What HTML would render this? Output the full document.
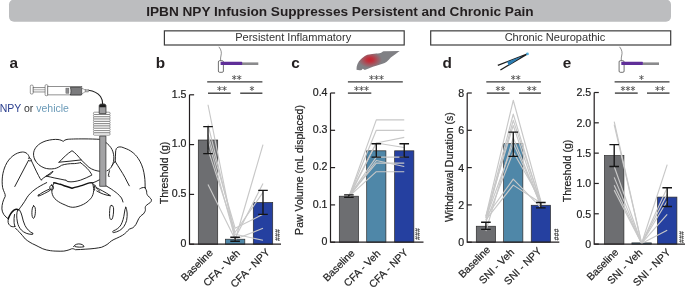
<!DOCTYPE html>
<html><head><meta charset="utf-8"><style>html,body{margin:0;padding:0;background:#fff;width:685px;height:288px;overflow:hidden}svg{display:block}</style></head><body>
<svg width="685" height="288" viewBox="0 0 685 288" font-family='"Liberation Sans", Arial, sans-serif'>
<rect width="685" height="288" fill="#fff"/>
<rect x="9" y="-0.5" width="662" height="22.3" rx="5" fill="#bcbdbf"/>
<text x="339.9" y="15.8" text-anchor="middle" font-size="13.64" font-weight="bold" fill="#231f20">IPBN NPY Infusion Suppresses Persistent and Chronic Pain</text>
<rect x="164.4" y="30.85" width="239.8" height="14.15" fill="#fff" stroke="#3c3c3c" stroke-width="1.2"/>
<text x="293.2" y="41" text-anchor="middle" font-size="11.05" fill="#333">Persistent Inflammatory</text>
<rect x="430.7" y="30.85" width="240" height="14.15" fill="#fff" stroke="#3c3c3c" stroke-width="1.2"/>
<text x="555" y="41" text-anchor="middle" font-size="11.05" fill="#333">Chronic Neuropathic</text>
<text x="9.4" y="67.6" font-size="15.3" font-weight="bold" fill="#231f20">a</text>
<text x="155.8" y="67.6" font-size="15.3" font-weight="bold" fill="#231f20">b</text>
<text x="291.3" y="67.6" font-size="15.3" font-weight="bold" fill="#231f20">c</text>
<text x="442.6" y="67.6" font-size="15.3" font-weight="bold" fill="#231f20">d</text>
<text x="562.7" y="67.6" font-size="15.3" font-weight="bold" fill="#231f20">e</text>
<rect x="198.3" y="140.02" width="19.4" height="104.18" fill="#6d6e71" stroke="#2b2b2b" stroke-width="0.7"/>
<rect x="225.4" y="239.22" width="19.4" height="4.98" fill="#4f87a8" stroke="#2b2b2b" stroke-width="0.7"/>
<rect x="253.3" y="202.47" width="19.4" height="41.73" fill="#2540a0" stroke="#2b2b2b" stroke-width="0.7"/>
<polyline points="208,104.76 235.1,240.22 263,144.6" fill="none" stroke="#c8c8c8" stroke-width="1.15" stroke-linejoin="round"/>
<polyline points="208,139.62 235.1,238.22 263,183.44" fill="none" stroke="#c8c8c8" stroke-width="1.15" stroke-linejoin="round"/>
<polyline points="208,149.58 235.1,232.25 263,192.41" fill="none" stroke="#c8c8c8" stroke-width="1.15" stroke-linejoin="round"/>
<polyline points="208,184.44 235.1,239.22 263,228.26" fill="none" stroke="#c8c8c8" stroke-width="1.15" stroke-linejoin="round"/>
<polyline points="208,124.68 235.1,234.24 263,240.22" fill="none" stroke="#c8c8c8" stroke-width="1.15" stroke-linejoin="round"/>
<polyline points="208,134.64 235.1,228.26 263,214.32" fill="none" stroke="#c8c8c8" stroke-width="1.15" stroke-linejoin="round"/>
<path d="M208 153.56V126.67M203.2 153.56h9.6M203.2 126.67h9.6" stroke="#151515" stroke-width="1.35" fill="none"/>
<path d="M235.1 241.21V237.23M230.3 241.21h9.6M230.3 237.23h9.6" stroke="#151515" stroke-width="1.35" fill="none"/>
<path d="M263 214.32V190.42M258.2 214.32h9.6M258.2 190.42h9.6" stroke="#151515" stroke-width="1.35" fill="none"/>
<path d="M189.5 94.8V244.2H281" stroke="#231f20" stroke-width="1.2" fill="none"/>
<path d="M189.5 244.2h4.6" stroke="#231f20" stroke-width="1.2"/>
<text x="186.5" y="247" text-anchor="end" font-size="10.6" fill="#222" stroke="#222" stroke-width="0.2">0</text>
<path d="M189.5 194.4h4.6" stroke="#231f20" stroke-width="1.2"/>
<text x="186.5" y="197.2" text-anchor="end" font-size="10.6" fill="#222" stroke="#222" stroke-width="0.2">0.5</text>
<path d="M189.5 144.6h4.6" stroke="#231f20" stroke-width="1.2"/>
<text x="186.5" y="147.4" text-anchor="end" font-size="10.6" fill="#222" stroke="#222" stroke-width="0.2">1.0</text>
<path d="M189.5 94.8h4.6" stroke="#231f20" stroke-width="1.2"/>
<text x="186.5" y="97.6" text-anchor="end" font-size="10.6" fill="#222" stroke="#222" stroke-width="0.2">1.5</text>
<text transform="translate(167.6,173) rotate(-90)" text-anchor="middle" font-size="10.5" fill="#222" stroke="#222" stroke-width="0.2">Threshold (g)</text>
<text transform="translate(213.5,253.5) rotate(-45)" text-anchor="end" font-size="10.4" fill="#222" stroke="#222" stroke-width="0.2">Baseline</text>
<text transform="translate(240.6,254) rotate(-45)" text-anchor="end" font-size="10.4" fill="#222" stroke="#222" stroke-width="0.2">CFA - Veh</text>
<text transform="translate(270.3,252.8) rotate(-45)" text-anchor="end" font-size="10.4" fill="#222" stroke="#222" stroke-width="0.2">CFA - NPY</text>
<text transform="translate(279.7,241) rotate(-90)" font-size="7.2" font-weight="bold" fill="#2a2a2a">###</text>
<path d="M207.2 81.9H262.4" stroke="#3a3a3a" stroke-width="1.35"/>
<text x="236.7" y="83.1" text-anchor="middle" font-family="DejaVu Sans, sans-serif" font-size="9.8" letter-spacing="0.1" fill="#4a4a4a" stroke="#4a4a4a" stroke-width="0.1">**</text>
<path d="M208 93.2H230.7" stroke="#3a3a3a" stroke-width="1.35"/>
<text x="222" y="94.4" text-anchor="middle" font-family="DejaVu Sans, sans-serif" font-size="9.8" letter-spacing="0.1" fill="#4a4a4a" stroke="#4a4a4a" stroke-width="0.1">**</text>
<path d="M240.2 93.2H262.4" stroke="#3a3a3a" stroke-width="1.35"/>
<text x="251.9" y="94.4" text-anchor="middle" font-family="DejaVu Sans, sans-serif" font-size="9.8" letter-spacing="0.1" fill="#4a4a4a" stroke="#4a4a4a" stroke-width="0.1">*</text>
<rect x="339.3" y="196.21" width="19.2" height="45.99" fill="#6d6e71" stroke="#2b2b2b" stroke-width="0.7"/>
<rect x="366.7" y="150.81" width="19.2" height="91.38" fill="#4f87a8" stroke="#2b2b2b" stroke-width="0.7"/>
<rect x="394.65" y="150.81" width="19.2" height="91.38" fill="#2540a0" stroke="#2b2b2b" stroke-width="0.7"/>
<polyline points="348.9,196.69 376.3,119.86 404.25,119.86" fill="none" stroke="#c8c8c8" stroke-width="1.15" stroke-linejoin="round"/>
<polyline points="348.9,196.69 376.3,130.3 404.25,130.3" fill="none" stroke="#c8c8c8" stroke-width="1.15" stroke-linejoin="round"/>
<polyline points="348.9,195.95 376.3,142.98 404.25,137.39" fill="none" stroke="#c8c8c8" stroke-width="1.15" stroke-linejoin="round"/>
<polyline points="348.9,197.44 376.3,142.98 404.25,147.46" fill="none" stroke="#c8c8c8" stroke-width="1.15" stroke-linejoin="round"/>
<polyline points="348.9,196.32 376.3,157.16 404.25,157.16" fill="none" stroke="#c8c8c8" stroke-width="1.15" stroke-linejoin="round"/>
<polyline points="348.9,197.07 376.3,160.51 404.25,166.48" fill="none" stroke="#c8c8c8" stroke-width="1.15" stroke-linejoin="round"/>
<polyline points="348.9,195.95 376.3,163.12 404.25,163.12" fill="none" stroke="#c8c8c8" stroke-width="1.15" stroke-linejoin="round"/>
<polyline points="348.9,196.69 376.3,171.7 404.25,171.7" fill="none" stroke="#c8c8c8" stroke-width="1.15" stroke-linejoin="round"/>
<path d="M348.9 197.44V194.83M344.1 197.44h9.6M344.1 194.83h9.6" stroke="#151515" stroke-width="1.35" fill="none"/>
<path d="M376.3 157.16V143.73M371.5 157.16h9.6M371.5 143.73h9.6" stroke="#151515" stroke-width="1.35" fill="none"/>
<path d="M404.25 157.16V143.73M399.45 157.16h9.6M399.45 143.73h9.6" stroke="#151515" stroke-width="1.35" fill="none"/>
<path d="M330.5 93V242.2H423.5" stroke="#231f20" stroke-width="1.2" fill="none"/>
<path d="M330.5 242.2h4.6" stroke="#231f20" stroke-width="1.2"/>
<text x="327.5" y="245" text-anchor="end" font-size="10.6" fill="#222" stroke="#222" stroke-width="0.2">0</text>
<path d="M330.5 204.9h4.6" stroke="#231f20" stroke-width="1.2"/>
<text x="327.5" y="207.7" text-anchor="end" font-size="10.6" fill="#222" stroke="#222" stroke-width="0.2">0.1</text>
<path d="M330.5 167.6h4.6" stroke="#231f20" stroke-width="1.2"/>
<text x="327.5" y="170.4" text-anchor="end" font-size="10.6" fill="#222" stroke="#222" stroke-width="0.2">0.2</text>
<path d="M330.5 130.3h4.6" stroke="#231f20" stroke-width="1.2"/>
<text x="327.5" y="133.1" text-anchor="end" font-size="10.6" fill="#222" stroke="#222" stroke-width="0.2">0.3</text>
<path d="M330.5 93h4.6" stroke="#231f20" stroke-width="1.2"/>
<text x="327.5" y="95.8" text-anchor="end" font-size="10.6" fill="#222" stroke="#222" stroke-width="0.2">0.4</text>
<text transform="translate(303.2,170) rotate(-90)" text-anchor="middle" font-size="10.5" fill="#222" stroke="#222" stroke-width="0.2">Paw Volume (mL displaced)</text>
<text transform="translate(355.4,253.8) rotate(-45)" text-anchor="end" font-size="10.4" fill="#222" stroke="#222" stroke-width="0.2">Baseline</text>
<text transform="translate(381.2,254.2) rotate(-45)" text-anchor="end" font-size="10.4" fill="#222" stroke="#222" stroke-width="0.2">CFA - Veh</text>
<text transform="translate(408.75,253) rotate(-45)" text-anchor="end" font-size="10.4" fill="#222" stroke="#222" stroke-width="0.2">CFA - NPY</text>
<text transform="translate(419.7,240) rotate(-90)" font-size="7.2" font-weight="bold" fill="#2a2a2a">###</text>
<path d="M347.9 81.9H402.8" stroke="#3a3a3a" stroke-width="1.35"/>
<text x="376.5" y="83.1" text-anchor="middle" font-family="DejaVu Sans, sans-serif" font-size="9.8" letter-spacing="0.1" fill="#4a4a4a" stroke="#4a4a4a" stroke-width="0.1">***</text>
<path d="M347.9 93.1H371.3" stroke="#3a3a3a" stroke-width="1.35"/>
<text x="361.6" y="94.3" text-anchor="middle" font-family="DejaVu Sans, sans-serif" font-size="9.8" letter-spacing="0.1" fill="#4a4a4a" stroke="#4a4a4a" stroke-width="0.1">***</text>
<rect x="476.3" y="226.25" width="19.2" height="15.95" fill="#6d6e71" stroke="#2b2b2b" stroke-width="0.7"/>
<rect x="503.65" y="143.73" width="19.2" height="98.47" fill="#4f87a8" stroke="#2b2b2b" stroke-width="0.7"/>
<rect x="531.25" y="205.27" width="19.2" height="36.93" fill="#2540a0" stroke="#2b2b2b" stroke-width="0.7"/>
<polyline points="485.9,216.09 513.25,100.27 540.85,201.17" fill="none" stroke="#c8c8c8" stroke-width="1.15" stroke-linejoin="round"/>
<polyline points="485.9,217.95 513.25,114.07 540.85,204.9" fill="none" stroke="#c8c8c8" stroke-width="1.15" stroke-linejoin="round"/>
<polyline points="485.9,219.82 513.25,120.42 540.85,202.1" fill="none" stroke="#c8c8c8" stroke-width="1.15" stroke-linejoin="round"/>
<polyline points="485.9,216.09 513.25,125.45 540.85,206.76" fill="none" stroke="#c8c8c8" stroke-width="1.15" stroke-linejoin="round"/>
<polyline points="485.9,217.95 513.25,143.54 540.85,203.97" fill="none" stroke="#c8c8c8" stroke-width="1.15" stroke-linejoin="round"/>
<polyline points="485.9,221.69 513.25,151.93 540.85,200.24" fill="none" stroke="#c8c8c8" stroke-width="1.15" stroke-linejoin="round"/>
<polyline points="485.9,217.02 513.25,179.16 540.85,207.7" fill="none" stroke="#c8c8c8" stroke-width="1.15" stroke-linejoin="round"/>
<polyline points="485.9,219.82 513.25,185.13 540.85,203.03" fill="none" stroke="#c8c8c8" stroke-width="1.15" stroke-linejoin="round"/>
<polyline points="485.9,231.01 513.25,137.76 540.85,205.83" fill="none" stroke="#c8c8c8" stroke-width="1.15" stroke-linejoin="round"/>
<path d="M485.9 229.33V222.24M481.1 229.33h9.6M481.1 222.24h9.6" stroke="#151515" stroke-width="1.35" fill="none"/>
<path d="M513.25 156.41V132.16M508.45 156.41h9.6M508.45 132.16h9.6" stroke="#151515" stroke-width="1.35" fill="none"/>
<path d="M540.85 207.88V202.48M536.05 207.88h9.6M536.05 202.48h9.6" stroke="#151515" stroke-width="1.35" fill="none"/>
<path d="M467.2 93V242.2H559.3" stroke="#231f20" stroke-width="1.2" fill="none"/>
<path d="M467.2 242.2h4.6" stroke="#231f20" stroke-width="1.2"/>
<text x="464.2" y="246.1" text-anchor="end" font-size="10.6" fill="#222" stroke="#222" stroke-width="0.2">0</text>
<path d="M467.2 204.9h4.6" stroke="#231f20" stroke-width="1.2"/>
<text x="464.2" y="208.8" text-anchor="end" font-size="10.6" fill="#222" stroke="#222" stroke-width="0.2">2</text>
<path d="M467.2 167.6h4.6" stroke="#231f20" stroke-width="1.2"/>
<text x="464.2" y="171.5" text-anchor="end" font-size="10.6" fill="#222" stroke="#222" stroke-width="0.2">4</text>
<path d="M467.2 130.3h4.6" stroke="#231f20" stroke-width="1.2"/>
<text x="464.2" y="134.2" text-anchor="end" font-size="10.6" fill="#222" stroke="#222" stroke-width="0.2">6</text>
<path d="M467.2 93h4.6" stroke="#231f20" stroke-width="1.2"/>
<text x="464.2" y="96.9" text-anchor="end" font-size="10.6" fill="#222" stroke="#222" stroke-width="0.2">8</text>
<text transform="translate(453.4,167.2) rotate(-90)" text-anchor="middle" font-size="10.5" fill="#222" stroke="#222" stroke-width="0.2">Withdrawal Duration (s)</text>
<text transform="translate(490.9,250.4) rotate(-45)" text-anchor="end" font-size="10.4" fill="#222" stroke="#222" stroke-width="0.2">Baseline</text>
<text transform="translate(514.75,253) rotate(-45)" text-anchor="end" font-size="10.4" fill="#222" stroke="#222" stroke-width="0.2">SNI - Veh</text>
<text transform="translate(542.25,251.5) rotate(-45)" text-anchor="end" font-size="10.4" fill="#222" stroke="#222" stroke-width="0.2">SNI - NPY</text>
<text transform="translate(559,240.5) rotate(-90)" font-size="7.2" font-weight="bold" fill="#2a2a2a">###</text>
<path d="M486.25 81.9H540.9" stroke="#3a3a3a" stroke-width="1.35"/>
<text x="515.7" y="83.1" text-anchor="middle" font-family="DejaVu Sans, sans-serif" font-size="9.8" letter-spacing="0.1" fill="#4a4a4a" stroke="#4a4a4a" stroke-width="0.1">**</text>
<path d="M486.8 93.1H509.5" stroke="#3a3a3a" stroke-width="1.35"/>
<text x="500.6" y="94.3" text-anchor="middle" font-family="DejaVu Sans, sans-serif" font-size="9.8" letter-spacing="0.1" fill="#4a4a4a" stroke="#4a4a4a" stroke-width="0.1">**</text>
<path d="M519 93.1H540.9" stroke="#3a3a3a" stroke-width="1.35"/>
<text x="531.7" y="94.3" text-anchor="middle" font-family="DejaVu Sans, sans-serif" font-size="9.8" letter-spacing="0.1" fill="#4a4a4a" stroke="#4a4a4a" stroke-width="0.1">**</text>
<rect x="604.5" y="155.57" width="19.4" height="88.53" fill="#6d6e71" stroke="#2b2b2b" stroke-width="0.7"/>
<rect x="631.9" y="242.89" width="19.4" height="1.21" fill="#4f87a8" stroke="#2b2b2b" stroke-width="0.7"/>
<rect x="657.5" y="197.1" width="19.4" height="47" fill="#2540a0" stroke="#2b2b2b" stroke-width="0.7"/>
<polyline points="614.2,121.61 641.6,243.49 667.2,230.15" fill="none" stroke="#c8c8c8" stroke-width="1.15" stroke-linejoin="round"/>
<polyline points="614.2,124.64 641.6,243.49 667.2,164.66" fill="none" stroke="#c8c8c8" stroke-width="1.15" stroke-linejoin="round"/>
<polyline points="614.2,166.48 641.6,243.49 667.2,201.05" fill="none" stroke="#c8c8c8" stroke-width="1.15" stroke-linejoin="round"/>
<polyline points="614.2,185.28 641.6,243.49 667.2,194.38" fill="none" stroke="#c8c8c8" stroke-width="1.15" stroke-linejoin="round"/>
<polyline points="614.2,190.13 641.6,243.49 667.2,214.39" fill="none" stroke="#c8c8c8" stroke-width="1.15" stroke-linejoin="round"/>
<polyline points="614.2,177.4 641.6,243.49 667.2,187.7" fill="none" stroke="#c8c8c8" stroke-width="1.15" stroke-linejoin="round"/>
<path d="M614.2 166.48V144.65M609.4 166.48h9.6M609.4 144.65h9.6" stroke="#151515" stroke-width="1.35" fill="none"/>
<path d="M667.2 206.5V187.7M662.4 206.5h9.6M662.4 187.7h9.6" stroke="#151515" stroke-width="1.35" fill="none"/>
<path d="M594.2 92.5V244.1H685" stroke="#231f20" stroke-width="1.2" fill="none"/>
<path d="M594.2 244.1h4.6" stroke="#231f20" stroke-width="1.2"/>
<text x="591.2" y="247.9" text-anchor="end" font-size="10.6" fill="#222" stroke="#222" stroke-width="0.2">0</text>
<path d="M594.2 213.78h4.6" stroke="#231f20" stroke-width="1.2"/>
<text x="591.2" y="217.58" text-anchor="end" font-size="10.6" fill="#222" stroke="#222" stroke-width="0.2">0.5</text>
<path d="M594.2 183.46h4.6" stroke="#231f20" stroke-width="1.2"/>
<text x="591.2" y="187.26" text-anchor="end" font-size="10.6" fill="#222" stroke="#222" stroke-width="0.2">1.0</text>
<path d="M594.2 153.14h4.6" stroke="#231f20" stroke-width="1.2"/>
<text x="591.2" y="156.94" text-anchor="end" font-size="10.6" fill="#222" stroke="#222" stroke-width="0.2">1.5</text>
<path d="M594.2 122.82h4.6" stroke="#231f20" stroke-width="1.2"/>
<text x="591.2" y="126.62" text-anchor="end" font-size="10.6" fill="#222" stroke="#222" stroke-width="0.2">2.0</text>
<path d="M594.2 92.5h4.6" stroke="#231f20" stroke-width="1.2"/>
<text x="591.2" y="96.3" text-anchor="end" font-size="10.6" fill="#222" stroke="#222" stroke-width="0.2">2.5</text>
<text transform="translate(571,171) rotate(-90)" text-anchor="middle" font-size="10.5" fill="#222" stroke="#222" stroke-width="0.2">Threshold (g)</text>
<text transform="translate(619.2,252.9) rotate(-45)" text-anchor="end" font-size="10.4" fill="#222" stroke="#222" stroke-width="0.2">Baseline</text>
<text transform="translate(643,253.4) rotate(-45)" text-anchor="end" font-size="10.4" fill="#222" stroke="#222" stroke-width="0.2">SNI - Veh</text>
<text transform="translate(671.2,252.9) rotate(-45)" text-anchor="end" font-size="10.4" fill="#222" stroke="#222" stroke-width="0.2">SNI - NPY</text>
<text transform="translate(684.3,243.1) rotate(-90)" font-size="7.2" font-weight="bold" fill="#2a2a2a">###</text>
<path d="M614.6 81.9H669.5" stroke="#3a3a3a" stroke-width="1.35"/>
<text x="641.5" y="83.1" text-anchor="middle" font-family="DejaVu Sans, sans-serif" font-size="9.8" letter-spacing="0.1" fill="#4a4a4a" stroke="#4a4a4a" stroke-width="0.1">*</text>
<path d="M614.9 93.1H637.7" stroke="#3a3a3a" stroke-width="1.35"/>
<text x="628" y="94.3" text-anchor="middle" font-family="DejaVu Sans, sans-serif" font-size="9.8" letter-spacing="0.1" fill="#4a4a4a" stroke="#4a4a4a" stroke-width="0.1">***</text>
<path d="M647 93.1H669.5" stroke="#3a3a3a" stroke-width="1.35"/>
<text x="659.9" y="94.3" text-anchor="middle" font-family="DejaVu Sans, sans-serif" font-size="9.8" letter-spacing="0.1" fill="#4a4a4a" stroke="#4a4a4a" stroke-width="0.1">**</text>
<g transform="translate(0,0)">
<path d="M218.9 46.8 C221.5 50 221.6 53 221.1 55 C220.6 57 220.4 59 220.6 60.7" fill="none" stroke="#444" stroke-width="0.6"/>
<rect x="218.4" y="60.7" width="5" height="11.6" rx="1.2" fill="#fff" stroke="#333" stroke-width="0.7"/>
<rect x="242" y="62.4" width="16.3" height="2.6" fill="#8a8a8c"/>
<rect x="220.6" y="61.8" width="21.6" height="3.3" rx="0.6" fill="#5f2f98"/>
</g>
<g transform="translate(400.7,0)">
<path d="M218.9 46.8 C221.5 50 221.6 53 221.1 55 C220.6 57 220.4 59 220.6 60.7" fill="none" stroke="#444" stroke-width="0.6"/>
<rect x="218.4" y="60.7" width="5" height="11.6" rx="1.2" fill="#fff" stroke="#333" stroke-width="0.7"/>
<rect x="242" y="62.4" width="16.3" height="2.6" fill="#8a8a8c"/>
<rect x="220.6" y="61.8" width="21.6" height="3.3" rx="0.6" fill="#5f2f98"/>
</g>
<defs><radialGradient id="rg" cx="370" cy="59.8" r="12" gradientUnits="userSpaceOnUse" gradientTransform="translate(370 59.8) scale(1.05 0.7) translate(-370 -59.8)"><stop offset="0" stop-color="#c62430"/><stop offset="0.25" stop-color="#c1303c"/><stop offset="0.6" stop-color="#a05a63"/><stop offset="0.95" stop-color="#808084"/></radialGradient></defs>
<path d="M356.5 69.8 C356.3 66 358 62 360.6 59.6 C362.5 57.5 364 56.3 365.8 55.4 C368 54.4 370 54 372.1 53.9 C375 53.6 377.5 53.6 379.4 53.3 C381 53 382.2 52 383.5 51.25 L399.7 51 C398 52.3 396.5 53.3 395 54.4 C393.5 55.5 392.2 56.5 390.8 57.5 C389.5 59 388.2 60.5 386.7 61.7 C385.3 62.6 384 63.2 382.5 63.75 C380.5 64.5 378.5 65.2 376.25 65.8 C374.5 66.3 372.8 66.8 371 67.4 C369 68.2 367 69.2 364.8 70 L362.7 68.75 L361.7 70 C360 70.3 358 70.2 356.5 69.8 Z" fill="url(#rg)"/>
<path d="M497.8 65.3 L527.5 53.9 L500.4 70" fill="none" stroke="#1e1e1e" stroke-width="1.25" stroke-linejoin="round"/>
<path d="M507.2 61.8 L522.5 55.9 L508.6 65.4 Z" fill="#2b7db2"/>
<circle cx="527.5" cy="53.9" r="1.3" fill="#4fb0e0"/>
<path d="M29.5 157.8 C28.5 154 26 152 22.5 152 C16 152.3 9 157.5 5.5 165.5 C2.5 172 1.5 180 2.6 187.5 C3.4 191.5 5.8 194 5.2 196.5 C3.2 200 1.8 204.5 1.9 208.9 C2.2 213 4.5 216.5 8.3 218.8" fill="none" stroke="#1a1a1a" stroke-width="0.95" stroke-linecap="round" stroke-linejoin="round"/>
<path d="M28.3 158.2 C29.2 157.6 30.8 158.2 31.2 159.6 C31.4 160.8 30.3 161.4 29.4 160.9" fill="none" stroke="#1a1a1a" stroke-width="0.95" stroke-linecap="round" stroke-linejoin="round"/>
<path d="M28.6 160.2 L14.8 186.5" fill="none" stroke="#1a1a1a" stroke-width="0.95" stroke-linecap="round" stroke-linejoin="round"/>
<path d="M31.2 160.3 C33.5 165 36 171 38.5 175.5 C39.5 177.5 40.5 179.3 41.2 180" fill="none" stroke="#1a1a1a" stroke-width="0.95" stroke-linecap="round" stroke-linejoin="round"/>
<path d="M35 160 C33.4 157 33 153.5 34.2 150.5 C36 146 40 142.8 46.2 140.8 C51 139.5 55 139.2 58 139.5 C60.5 139.8 62 140.6 63.2 141.4 C64.2 140.3 65.5 139.6 67 139.4 C70 139 76 138.9 84 138.9 C90 138.9 95 139.1 99.5 139.3" fill="none" stroke="#1a1a1a" stroke-width="0.95" stroke-linecap="round" stroke-linejoin="round"/>
<path d="M35 160 C37 163.8 40 166.2 44 167.8 C47 169 51 169.2 54.5 168.6 C57.5 168 59.5 166.7 61.5 165.3 C65 164.2 69 163.5 74.3 163.6 C77 163.4 79 163 80.4 162.6" fill="none" stroke="#1a1a1a" stroke-width="0.95" stroke-linecap="round" stroke-linejoin="round"/>
<path d="M59.1 162.2 C63 158 67.5 153.5 72 150.7 C75 152.5 78.5 156.5 81.2 159.9 C74 160.8 66 161.6 59.1 162.2 Z" fill="none" stroke="#1a1a1a" stroke-width="0.95" stroke-linecap="round" stroke-linejoin="round"/>
<path d="M81.2 159.9 C84 162.5 86.6 165.2 89 167.4 C92.5 169.8 96 170.8 99.6 171.3" fill="none" stroke="#1a1a1a" stroke-width="0.95" stroke-linecap="round" stroke-linejoin="round"/>
<path d="M80.4 162.6 C83.5 165 86.6 167.5 89 170.5 C90.5 172.5 91.5 174 91.9 175.1 C88.5 177 84 178.8 80.4 180.2 C76 181.4 72 182.3 68 181.6 C67 181.2 66.5 180.8 66 180.3" fill="none" stroke="#1a1a1a" stroke-width="0.95" stroke-linecap="round" stroke-linejoin="round"/>
<path d="M46.3 176.1 C49 176.6 51.5 177.3 54.2 177.9 C58 178.6 62 179.5 66 180.3" fill="none" stroke="#1a1a1a" stroke-width="0.95" stroke-linecap="round" stroke-linejoin="round"/>
<path d="M41.2 180 C42.8 178.5 44.5 177 46.3 176.1 C48.5 174.5 51 172.5 53 171.2 C52.5 172.8 50.5 174.8 46.3 176.1" fill="none" stroke="#1a1a1a" stroke-width="0.95" stroke-linecap="round" stroke-linejoin="round"/>
<path d="M53.8 182.8 C56 183.2 58 183.8 60.3 184.3 C62 184.8 63 185.2 63.6 185.5 C67 186.6 69.5 187.5 72 188.2 C75 187.4 78 186.6 80.4 185.9 C84 184.8 87 183.6 89.6 182.9 C91 182.7 92 182.8 92.7 182.9" fill="none" stroke="#111" stroke-width="1.45" stroke-linecap="round" stroke-linejoin="round"/>
<path d="M92.7 183.6 C93.6 187 94 190 93.4 192.8 C92.8 195.5 91.8 197.5 90.4 198.9 C88 201.5 86 203 83.5 204.3 C80 206 76 207.3 72.8 207.3 C70 207.2 67.5 206.2 65.2 205 C62 203.8 59 202.2 56.7 200.4 C53.8 198.2 52.4 195.5 51.9 192.5 C51.6 189.5 52.3 186 53.8 183.2" fill="none" stroke="#1a1a1a" stroke-width="0.95" stroke-linecap="round" stroke-linejoin="round"/>
<path d="M95 185.2 C95.8 186.8 96.5 188 97.3 189 C98.2 190 99 190.7 99.8 191.2" fill="none" stroke="#1a1a1a" stroke-width="0.95" stroke-linecap="round" stroke-linejoin="round"/>
<path d="M93.8 184.3 C94.6 186 94.9 188 94.6 190.2" fill="none" stroke="#1a1a1a" stroke-width="0.95" stroke-linecap="round" stroke-linejoin="round"/>
<path d="M46.7 182.6 C42 185 38 187 35 189.4 C31.5 192 29 194.5 27.2 197.2 C25.5 200 23.5 203.5 21.5 206 C20.6 207.2 19.8 208.2 18.7 209.8" fill="none" stroke="#1a1a1a" stroke-width="0.95" stroke-linecap="round" stroke-linejoin="round"/>
<path d="M8.3 218.8 C9.5 215.5 11.5 212 14 210.2 C15.5 209.2 17.2 209.1 18.7 209.8" fill="none" stroke="#111" stroke-width="1.45" stroke-linecap="round" stroke-linejoin="round"/>
<path d="M8.3 219.2 C7.6 221.5 8.2 224 9.8 225.4 C11 226.6 12.9 227.2 15 226.5" fill="none" stroke="#1a1a1a" stroke-width="0.95" stroke-linecap="round" stroke-linejoin="round"/>
<path d="M14.5 214.5 C14 217 13.9 220 14.1 222.5 C14.3 224.5 14.6 225.8 15 226.5" fill="none" stroke="#1a1a1a" stroke-width="0.95" stroke-linecap="round" stroke-linejoin="round"/>
<path d="M17.6 210.3 C16.6 213 16.3 216.5 17.4 222 C18 225.5 19.5 228 21.3 230 C24 232.8 28 234.4 32.2 234.4 C33.2 234.3 33.5 233.8 32.8 233.4" fill="none" stroke="#1a1a1a" stroke-width="0.95" stroke-linecap="round" stroke-linejoin="round"/>
<path d="M19.7 210.3 C20.8 212 21.5 214 22 216 C22.8 219.5 23.6 222.5 25 225.5 C26.8 229 29.5 231.8 32.8 233.4" fill="none" stroke="#1a1a1a" stroke-width="0.95" stroke-linecap="round" stroke-linejoin="round"/>
<path d="M15.5 228.2 C17 229.8 18.2 231 19.6 232.3 C21.8 234.5 23.3 236.8 25.3 239 C28.5 241.6 31.5 243.4 35 244.9 C37.8 246.2 40 247.6 42.8 248.8 C45.5 249.8 48 250.4 50.6 250.7 C53 251 55 251.1 56 251.1 C59 251.2 61.5 251.3 63.8 251.1 C67 250.6 69.5 249.8 71.6 248.8 C73.5 248.4 74.5 249.3 75.4 249.7 C79 249.8 82 249.3 85.2 249.2 C88.5 249 91.5 248.8 94.9 248.4 C97.5 248 99.5 247.7 101.6 247.25 C103.5 246.4 105.5 245.5 107.1 244.5 C108.8 243.2 110 242 111.3 241 C113 239.8 114.8 239 116.8 238.2 C118.8 237.3 120.5 236.4 122.4 235.4 C124 234.4 125.3 233.2 126.6 232 C127.5 231 128.3 230 129.3 229.2 C130.5 228.5 131.8 228.3 132.8 227.8 C134.2 226.8 135.2 225.6 136 224.3 C137 222.5 137.8 220.5 138.7 218.7 C140 216.5 141.5 215 143.2 214.2 C144.5 212.5 145.6 210.8 145.4 209.4 C145.2 207.8 145 206.6 146.2 205.5 C147.5 204.2 149 203.5 150.3 202.5 C151.5 201.5 151.6 200 151.2 199 C149.8 197.5 148.5 196.5 147.7 195.5 C146.8 194 146.4 193 146.8 192 C146.5 190.5 145.8 188.8 145.1 187.7" fill="none" stroke="#1a1a1a" stroke-width="0.95" stroke-linecap="round" stroke-linejoin="round"/>
<path d="M73.5 246.5 C75 244.2 78 243.4 81 244.2 C83 244.8 84.2 245.8 84 246.7 C81 247.4 77.5 247.2 75 246.6" fill="none" stroke="#1a1a1a" stroke-width="0.95" stroke-linecap="round" stroke-linejoin="round"/>
<path d="M145.1 187.7 C145.2 184 145 180 144.6 177 C143.9 171 142.5 166 139.9 161.2 C137.8 157.5 135.8 155.2 133.8 153.4 C131.5 151.4 129 149.8 126.8 149 C124 148 122 146.8 119.9 146.9 C118.5 146.9 117 147.5 116.4 148.5 C115.8 149.8 115.6 151 115.6 152 C115.5 155 115.4 158.5 115.2 161.5" fill="none" stroke="#1a1a1a" stroke-width="0.95" stroke-linecap="round" stroke-linejoin="round"/>
<path d="M145.1 187.7 C144 187.4 142.8 187.4 141.8 187.8 C140.8 188.2 140.2 188.7 139.9 188.8" fill="none" stroke="#1a1a1a" stroke-width="0.95" stroke-linecap="round" stroke-linejoin="round"/>
<path d="M115.2 161.5 C116.8 164.2 118.4 166.5 119.9 169 C121.8 172 123.5 174.8 125.1 177.7 C126.5 180.5 128 183.5 129.3 185.8" fill="none" stroke="#1a1a1a" stroke-width="0.95" stroke-linecap="round" stroke-linejoin="round"/>
<path d="M105.8 142.4 C108 144 110.5 146.5 112 149.5 C113.5 152.5 114 156 113.8 159 C113.6 162.5 112.6 165 111.2 167.25 C110 169 108.5 170.2 107 170.8" fill="none" stroke="#1a1a1a" stroke-width="0.95" stroke-linecap="round" stroke-linejoin="round"/>
<path d="M115.2 161.5 C113.8 162.8 112.7 164.3 112 165.5" fill="none" stroke="#1a1a1a" stroke-width="0.95" stroke-linecap="round" stroke-linejoin="round"/>
<path d="M109.5 170.8 C109 172.5 108.6 174 108.4 175.5 C108.2 176.5 108.8 176.8 109.4 176.4" fill="none" stroke="#1a1a1a" stroke-width="0.95" stroke-linecap="round" stroke-linejoin="round"/>
<path d="M96.2 187.6 C100 189.5 105 192 110.6 195.8 C106 195.4 101 193.5 96.8 191" fill="none" stroke="#1a1a1a" stroke-width="0.95" stroke-linecap="round" stroke-linejoin="round"/>
<path d="M106 185.8 C108 187 110 188.2 111.8 189.4 C114 191 116 192.4 117.3 193.5 C119 195 120.5 196.5 121.5 198 C122.2 199.4 122.6 200.6 123 202" fill="none" stroke="#1a1a1a" stroke-width="0.95" stroke-linecap="round" stroke-linejoin="round"/>
<path d="M111.2 205.5 C112.6 205 113.6 206.5 113.6 209 C113.6 213 113.2 217 112 219.2 C110.8 220.3 109.8 219 109.6 216.5 C109.4 212.5 109.8 208 110.2 206.5 C110.5 205.8 110.8 205.6 111.2 205.5 Z" fill="none" stroke="#1a1a1a" stroke-width="0.95" stroke-linecap="round" stroke-linejoin="round"/>
<path d="M125.8 207.3 C127.4 210.5 127.6 215 126.6 220.5 C125.4 225 122.8 228.8 119.6 230.5 C117.5 231.6 115.3 232.4 113.4 232.6 C112.3 232.4 112.4 231.4 113.5 230.8 C116.5 229.7 119.2 227.8 121 224.8 C122.7 221.6 123.8 217.5 124.4 213 C124.7 210.5 125 208.5 125.8 207.3 Z" fill="none" stroke="#1a1a1a" stroke-width="0.95" stroke-linecap="round" stroke-linejoin="round"/>
<path d="M33.6 205.8 C35 205.8 35.6 208.5 35.4 211.5 C35.3 214.5 34.8 217.5 33.6 218.4 C32.4 218.2 31.8 215.5 31.9 212.5 C32 209.5 32.4 206.2 33.6 205.8 Z" fill="none" stroke="#1a1a1a" stroke-width="0.95" stroke-linecap="round" stroke-linejoin="round"/>
<path d="M38.2 195.3 C41 193.2 45 191 49.2 189.2 C50.8 188.6 51.2 189.4 50.3 190.2 C47 192.3 42.5 194.6 38.8 196 C37.8 196.3 37.5 195.8 38.2 195.3 Z" fill="none" stroke="#1a1a1a" stroke-width="0.95" stroke-linecap="round" stroke-linejoin="round"/>
<path d="M51.6 185.1 C52.8 185 53.6 186.2 53.5 187.8 C53.4 189.3 52.6 190.2 51.5 190 C50.3 189.8 49.6 188.5 49.8 187.2 C50 186 50.7 185.2 51.6 185.1 Z" fill="none" stroke="#1a1a1a" stroke-width="0.95" stroke-linecap="round" stroke-linejoin="round"/>
<path d="M92.7 182.9 C95 182.2 97 181 99.6 179.7" fill="none" stroke="#1a1a1a" stroke-width="0.95" stroke-linecap="round" stroke-linejoin="round"/>
<path d="M99.7 136 V186.3 H105.9 V136 Z" fill="#a3a3a5" stroke="#333" stroke-width="0.75"/>
<rect x="93.4" y="112.20" width="16.8" height="2.3" rx="1.15" fill="#fff" stroke="#5a5a5a" stroke-width="0.6"/>
<rect x="93.4" y="114.50" width="16.8" height="2.3" rx="1.15" fill="#fff" stroke="#5a5a5a" stroke-width="0.6"/>
<rect x="93.4" y="116.80" width="16.8" height="2.3" rx="1.15" fill="#fff" stroke="#5a5a5a" stroke-width="0.6"/>
<rect x="93.4" y="119.10" width="16.8" height="2.3" rx="1.15" fill="#fff" stroke="#5a5a5a" stroke-width="0.6"/>
<rect x="93.4" y="121.40" width="16.8" height="2.3" rx="1.15" fill="#fff" stroke="#5a5a5a" stroke-width="0.6"/>
<rect x="93.4" y="123.70" width="16.8" height="2.3" rx="1.15" fill="#fff" stroke="#5a5a5a" stroke-width="0.6"/>
<rect x="93.4" y="126.00" width="16.8" height="2.3" rx="1.15" fill="#fff" stroke="#5a5a5a" stroke-width="0.6"/>
<rect x="93.4" y="128.30" width="16.8" height="2.3" rx="1.15" fill="#fff" stroke="#5a5a5a" stroke-width="0.6"/>
<rect x="93.4" y="130.60" width="16.8" height="2.3" rx="1.15" fill="#fff" stroke="#5a5a5a" stroke-width="0.6"/>
<rect x="93.4" y="132.90" width="16.8" height="2.3" rx="1.15" fill="#fff" stroke="#5a5a5a" stroke-width="0.6"/>
<path d="M99.2 113.6 V106 C99.2 104.7 100 104 101.5 104 H103.8 C105.2 104 106 104.7 106 106 V113.6 Z" fill="#9d9d9f" stroke="#222" stroke-width="0.7"/>
<path d="M99.4 107.2 V105.8 C99.4 104.8 100.2 104.3 101.5 104.3 H103.8 C105 104.3 105.8 104.8 105.8 105.8 V107.2 Z" fill="#1d1d1d"/>
<path d="M88.4 90.2 C93 90.8 97.5 92.5 100.5 96.5 C102.2 99 102.8 101.5 102.7 104.2" fill="none" stroke="#1f1f1f" stroke-width="1.1"/>
<g transform="translate(0,0.5)">
<rect x="30.3" y="84.6" width="2.9" height="8.9" rx="1.1" fill="#fff" stroke="#555" stroke-width="0.6"/>
<rect x="33.2" y="86.9" width="12.4" height="4.6" fill="#f4f4f4" stroke="#555" stroke-width="0.6"/>
<path d="M33.3 89.2 H45.6" stroke="#777" stroke-width="0.5"/>
<rect x="45.1" y="84.2" width="2.7" height="11" rx="1" fill="#fff" stroke="#555" stroke-width="0.6"/>
<rect x="47.8" y="86.1" width="34" height="8.3" fill="#fff" stroke="#555" stroke-width="0.65"/>
<rect x="65.9" y="87.6" width="3" height="5.2" fill="#8d8d8f" stroke="#555" stroke-width="0.4"/>
<path d="M70.3 86.8 H80.2 C81.2 86.8 81.8 87.6 81.8 88.5 V92.8 C81.8 93.8 81.2 94.5 80.2 94.5 H70.3 C71.2 92.5 71.2 88.8 70.3 86.8 Z" fill="#7b7b7d" stroke="#2a2a2a" stroke-width="0.7"/>
<path d="M81.8 87.8 L85.2 89.3 V91.3 L81.8 93.4 Z" fill="#fff" stroke="#555" stroke-width="0.5"/>
<rect x="85.2" y="89.1" width="3.3" height="2.4" fill="#b5b5b5" stroke="#666" stroke-width="0.4"/>
</g>
<text x="-0.3" y="111.9" font-size="10.5"><tspan fill="#2b3f8f">NPY</tspan><tspan fill="#333"> or </tspan><tspan fill="#6a9ab8">vehicle</tspan></text>
</svg>
</body></html>
